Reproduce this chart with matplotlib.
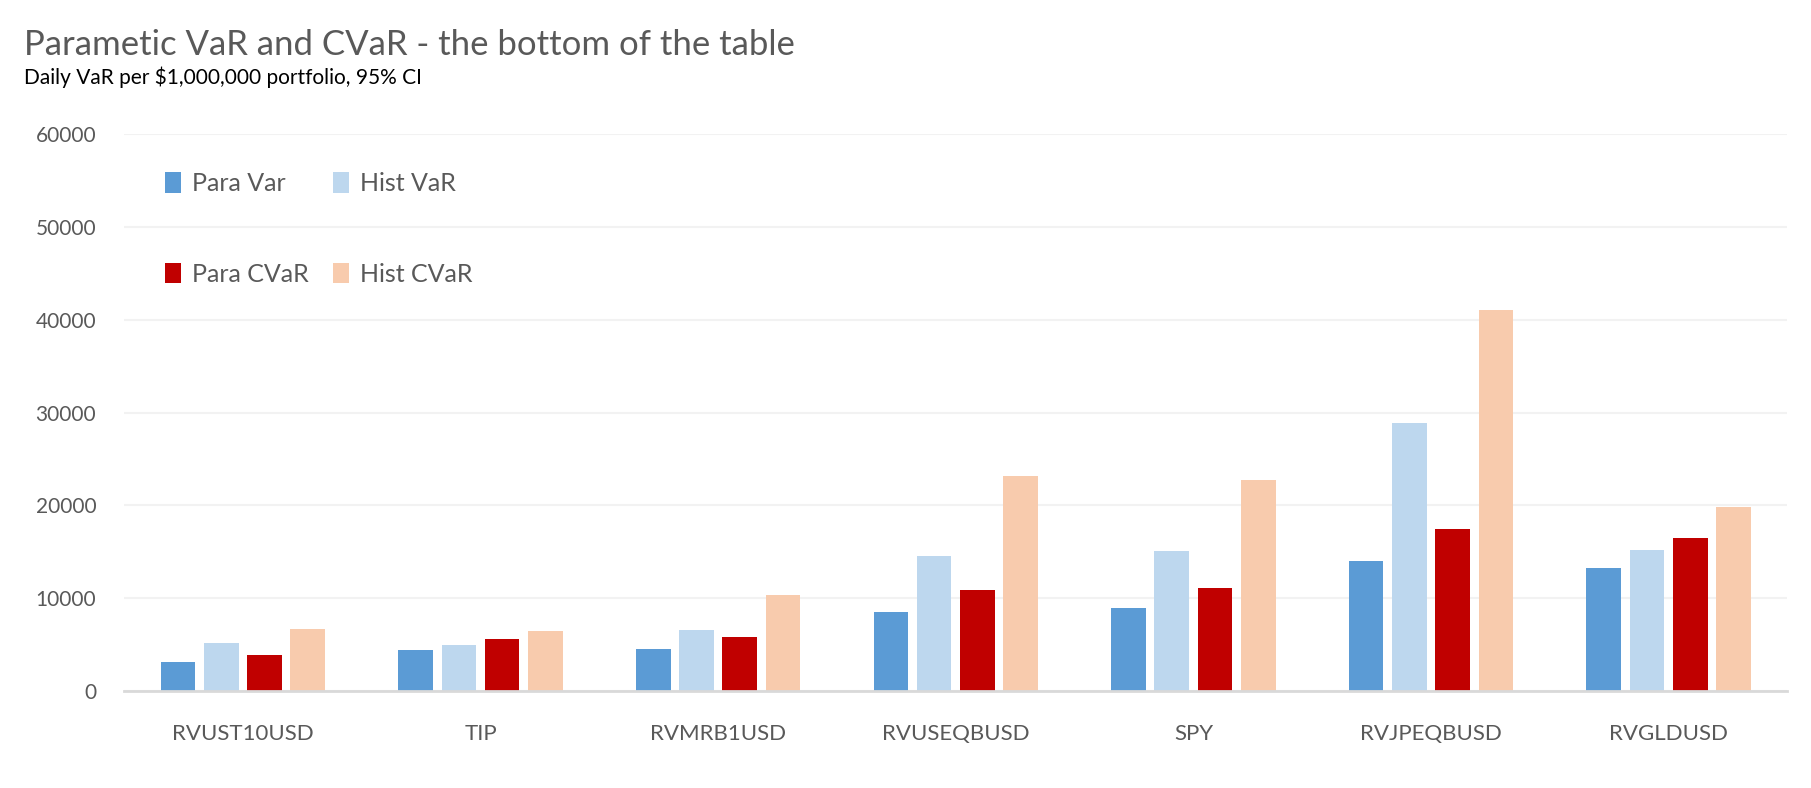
import numpy as np
import matplotlib.pyplot as plt

plt.rcParams['font.family'] = ['Lato', 'DejaVu Sans']

# data
tickers = ["RVUST10USD", "TIP", "RVMRB1USD", "RVUSEQBUSD", "SPY", "RVJPEQBUSD", "RVGLDUSD"]
para_var = [3090, 4380, 4490, 8480, 8910, 13980, 13220]
hist_var = [5140, 4920, 6540, 14520, 15055, 28850, 15160]
para_cvar = [3845, 5570, 5785, 10850, 11070, 17430, 16460]
hist_cvar = [6650, 6430, 10310, 23140, 22710, 41035, 19800]

series = [("Para Var", para_var, "#5B9BD5"),
          ("Hist VaR", hist_var, "#BDD7EE"),
          ("Para CVaR", para_cvar, "#C00000"),
          ("Hist CVaR", hist_cvar, "#F8CBAD")]

grey = "#595959"

fig = plt.figure(figsize=(18.11, 7.88), dpi=100)
ax = fig.add_axes([0.0685, 0.123, 0.9185, 0.707])

x = np.arange(len(tickers))
w = 0.146
step = 0.182
offsets = [-1.5 * step, -0.5 * step, 0.5 * step, 1.5 * step]
bars = []
for (name, vals, col), off in zip(series, offsets):
    bars.append(ax.bar(x + off, vals, width=w, color=col, label=name, zorder=3))

ax.set_xlim(-0.5, len(tickers) - 0.5)
ax.set_ylim(0, 60000)
ax.set_yticks(np.arange(0, 60001, 10000))
ax.yaxis.grid(True, color="#F2F2F2", linewidth=1.5, zorder=0)
ax.set_axisbelow(True)
for s in ["top", "right", "left"]:
    ax.spines[s].set_visible(False)
ax.spines["bottom"].set_color("#D9D9D9")
ax.spines["bottom"].set_linewidth(2)
ax.spines["bottom"].set_zorder(4)
ax.set_xticks(x)
ax.set_xticklabels(tickers)
ax.tick_params(axis="both", length=0, colors=grey)
ax.tick_params(axis="x", pad=24, labelsize=16)
ax.tick_params(axis="y", pad=20, labelsize=15)

# legend rows: Para Var / Hist VaR, then Para CVaR / Hist CVaR
order = [0, 2, 1, 3]
leg = ax.legend([bars[i] for i in order], [series[i][0] for i in order],
                ncol=2, loc="upper left", bbox_to_anchor=(0.011, 0.972),
                frameon=False, fontsize=18, labelspacing=2.7,
                handlelength=0.65, handleheight=0.9, handletextpad=0.45,
                columnspacing=0.95)
for t in leg.get_texts():
    t.set_color(grey)

fig.text(0.0135, 0.943, "Parametic VaR and CVaR - the bottom of the table",
         fontsize=25, color=grey, va="center")
fig.text(0.0135, 0.902, "Daily VaR per $1,000,000 portfolio, 95% CI",
         fontsize=15, color="black", va="center")

fig.savefig("out.png", dpi=100)
